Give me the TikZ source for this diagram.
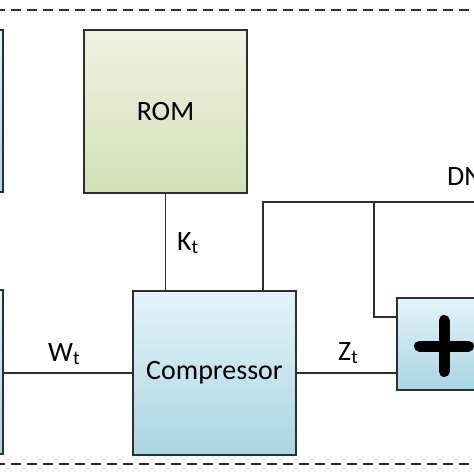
\documentclass[tikz,border=0pt]{standalone}
\usepackage{fontspec}
\setmainfont{Carlito}
\definecolor{gtop}{HTML}{EEF3E0}
\definecolor{gbot}{HTML}{D2E0B6}
\definecolor{btop}{HTML}{E4F3F9}
\definecolor{bbot}{HTML}{A9D6E3}
\definecolor{ink}{HTML}{2E2E2E}
\begin{document}
\begin{tikzpicture}[x=1pt,y=-1pt,
  line/.style={draw=ink,line width=1.5pt},
  bluebox/.style={line, top color=btop, bottom color=bbot, minimum width=163pt, minimum height=164pt, inner sep=0pt, font=\fontsize{28}{31}\selectfont},
  greenbox/.style={line, top color=gtop, bottom color=gbot, minimum width=163pt, minimum height=163pt, inner sep=0pt, font=\fontsize{28}{31}\selectfont},
  lbl/.style={font=\fontsize{28}{31}\selectfont, inner sep=0pt, anchor=base west},
  dashline/.style={draw=ink, line width=1.5pt, dash pattern=on 10pt off 6pt}]
\useasboundingbox (0,0) rectangle (474,474);
\clip (0,0) rectangle (474,474);
\coordinate (dtl) at (-5,10);
\coordinate (dtr) at (480,10);
\coordinate (dbl) at (-5,464);
\coordinate (dbr) at (480,464);
\draw[dashline] (dtl) -- (dtr);
\draw[dashline] (dbl) -- (dbr);
\node[bluebox, minimum height=162pt] (lefttop) at (-78.5,111) {};
\node[bluebox] (leftlow) at (-78.5,372) {};
\node[greenbox] (rom) at (165.5,111.5) {ROM};
\node[bluebox] (comp) at (214.5,373) {Compressor};
\node[bluebox, minimum width=92pt, minimum height=92pt] (plus) at (443,344) {};
\coordinate (pc) at (444,346);
\draw[line width=11pt, line cap=round] ([xshift=-24.5pt]pc) -- ([xshift=24.5pt]pc);
\draw[line width=11pt, line cap=round] ([yshift=-25.5pt]pc) -- ([yshift=25.5pt]pc);
% connectors
\draw[line] (rom.south) -- (rom.south |- comp.north);
\draw[line] (leftlow.east |- 0,373) -- (comp.west |- 0,373);
\draw[line] (comp.east |- 0,373) -- (plus.west |- 0,373);
\coordinate (up) at (263,202);
\coordinate (jn) at (374,202);
\coordinate (rend) at (480,202);
\draw[line] (comp.north -| up) -- (up) -- (rend);
\draw[line] (jn) -- (374,317) -- (plus.west |- 0,317);
% labels
\node[lbl] (kt) at (177,250) {K\textsubscript{t}};
\node[lbl] (wt) at (48,361) {W\textsubscript{t}};
\node[lbl] (zt) at (338,360) {Z\textsubscript{t}};
\node[lbl] (dn) at (447,185) {DNN};
\end{tikzpicture}
\end{document}
